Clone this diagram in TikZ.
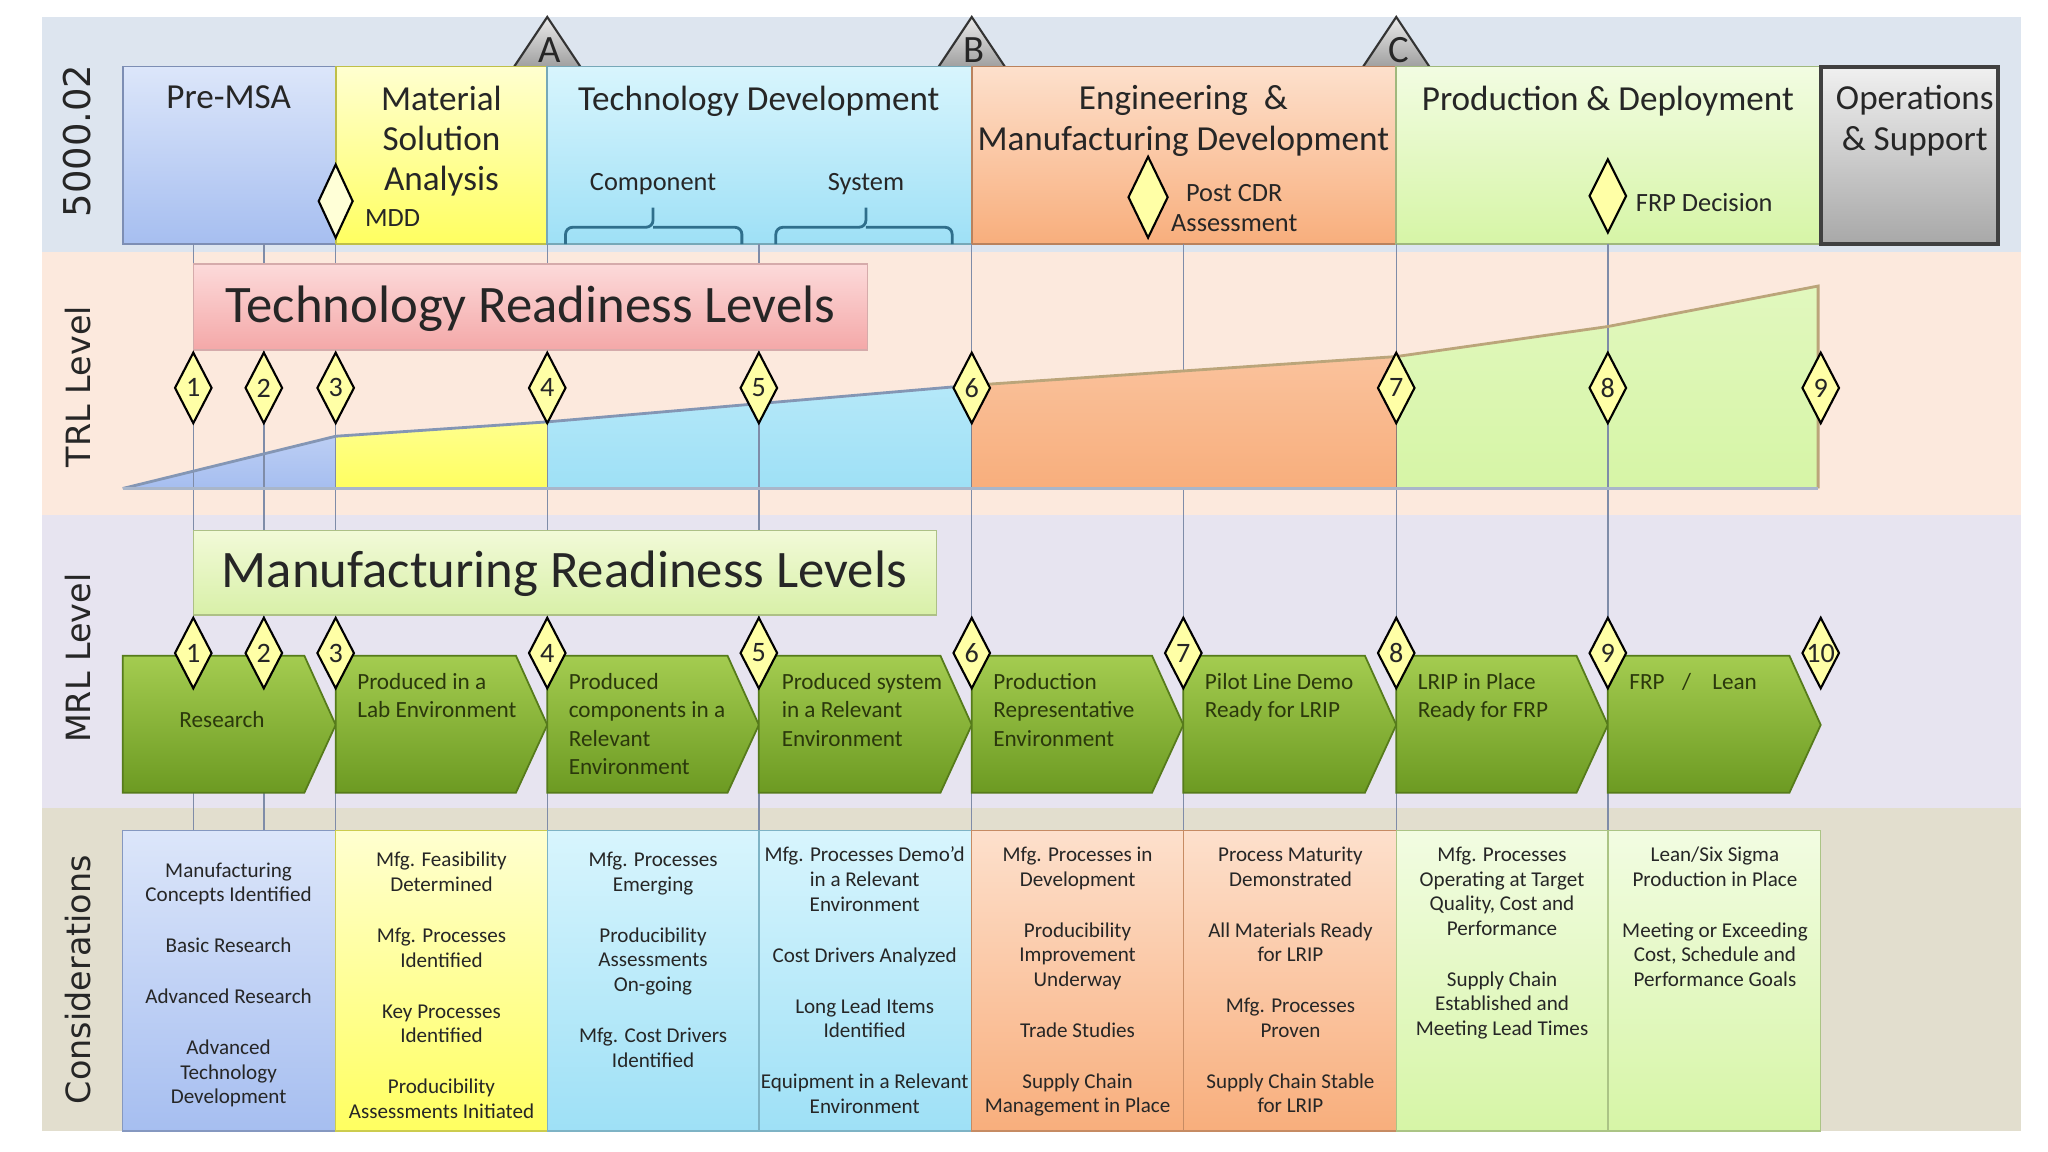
\documentclass[tikz,border=0pt]{standalone}
\usepackage{fontspec}
\setmainfont{Carlito}
\newfontfamily\sidefont{DejaVu Sans}
\usepackage{tikz}
\usetikzlibrary{positioning}
% band and phase colours
\definecolor{bandtop}{HTML}{DDE5EF}
\definecolor{bandtrl}{HTML}{FCE9DD}
\definecolor{bandmrl}{HTML}{E7E4F0}
\definecolor{bandcon}{HTML}{E2DECE}
\definecolor{txt}{HTML}{262626}
\definecolor{vgrey}{HTML}{7F8CA8}
\definecolor{blueA}{HTML}{DCE6FA}
\definecolor{blueB}{HTML}{A6BEF0}
\definecolor{yelA}{HTML}{FFFFD0}
\definecolor{yelB}{HTML}{FFFF60}
\definecolor{cyanA}{HTML}{D8F5FD}
\definecolor{cyanB}{HTML}{9EE0F6}
\definecolor{oraA}{HTML}{FDE0CC}
\definecolor{oraB}{HTML}{F8AE7C}
\definecolor{grnA}{HTML}{F2FCE2}
\definecolor{grnB}{HTML}{D6F5A6}
\definecolor{greyA}{HTML}{F0F0F0}
\definecolor{greyB}{HTML}{A8A8A8}
\definecolor{chevA}{HTML}{A4CC50}
\definecolor{chevB}{HTML}{6C9A22}
\definecolor{chevtxt}{HTML}{2B380C}
\definecolor{diafill}{HTML}{FFFFA6}
\definecolor{pinkA}{HTML}{FCDADA}
\definecolor{pinkB}{HTML}{F4A8A8}
\definecolor{limeA}{HTML}{F2FAD8}
\definecolor{limeB}{HTML}{D8F0A8}
\definecolor{bracecol}{HTML}{2F6F8C}
\definecolor{edgeblue}{HTML}{8496B4}
\definecolor{edgetan}{HTML}{BBA57A}
\tikzset{
  vline/.style={draw=vgrey, line width=0.4pt},
  phase/.style={top color=#1A, bottom color=#1B, draw=#1B!75!black, line width=0.5pt},
  ramp/.style={top color=#1A!40!#1B, bottom color=#1B},
  cell/.style={top color=#1A, bottom color=#1B, draw=#1B!80!black, line width=0.4pt},
  ptitle/.style={font=\fontsize{10}{11.5}\selectfont, align=center, inner sep=0pt, anchor=north},
  small/.style={font=\fontsize{7.5}{8.5}\selectfont, align=center, inner sep=0pt},
  mstone/.style={draw=black!80, top color=black!8, bottom color=black!38, line width=0.6pt},
  mile/.style={draw=black, fill=diafill, line width=0.6pt},
  num/.style={font=\fontsize{8}{8}\selectfont, inner sep=0pt},
  sidelbl/.style={rotate=90, anchor=base, inner sep=0pt, font=\sidefont\fontsize{9.5}{11}\selectfont},
  bigtitle/.style={font=\fontsize{15}{16}\selectfont, inner sep=0pt, anchor=base},
  chev/.style={top color=chevA, bottom color=chevB, draw=chevB!80!black, line width=0.5pt},
  chtxt/.style={font=\fontsize{6.6}{8.1}\selectfont, text=chevtxt, align=left, inner sep=0pt, anchor=north west},
  cons/.style={font=\fontsize{6}{7}\selectfont, align=center, inner sep=0pt, anchor=north},
  brc/.style={draw=bracecol, line width=0.8pt, rounded corners=2pt},
}
\begin{document}
\begin{tikzpicture}[x=0.01306cm, y=-0.01306cm, text=txt]
  \def\gap{7.5pt}
  \useasboundingbox (0,0) rectangle (1568,882);
  % background bands
  \fill[bandtop] (32,13) rectangle (1547,193);
  \fill[bandtrl] (32,193) rectangle (1547,394);
  \fill[bandmrl] (32,394) rectangle (1547,619);
  \fill[bandcon] (32,619) rectangle (1547,866);
  % row labels
  \node[sidelbl, font=\sidefont\fontsize{10.5}{12}\selectfont] (lbl0) at (69,108) {5000.02};
  \node[sidelbl] (lbl1) at (69,296) {TRL Level};
  \node[sidelbl] (lbl2) at (69,504) {MRL Level};
  \node[sidelbl] (lbl3) at (69,750) {Considerations};
  % milestones A, B, C
  \foreach \m/\x in {A/419,B/744,C/1069}{
    \draw[mstone] (\x-26,52) -- (\x,13) -- (\x+26,52) -- cycle;
    \node[font=\fontsize{11}{12}\selectfont, inner sep=0pt] (ms\m) at (\x+2,38) {\m};
  }
  % acquisition phases
  \draw[phase=blue] (94,51) rectangle (257,187);
  \draw[phase=yel] (257,51) rectangle (419,187);
  \draw[phase=cyan] (419,51) rectangle (744,187);
  \draw[phase=ora] (744,51) rectangle (1069,187);
  \draw[phase=grn] (1069,51) rectangle (1394,187);
  \draw[phase=grey, draw=black!75, line width=1.2pt] (1394,51) rectangle (1530,187);
  \node[ptitle] (ph1) at (175,65) {Pre-MSA};
  \node[ptitle] (ph2) at (338,65) {Material\\Solution\\Analysis};
  \node[ptitle] (ph3) at (581,65) {Technology Development};
  \node[ptitle] (ph4) at (906,65) {Engineering~~\&\\Manufacturing Development};
  \node[ptitle] (ph5) at (1231,65) {Production \& Deployment};
  \node[ptitle] (ph6) at (1466,65) {Operations\\\& Support};
  % component / system braces
  \node[small] (cmp) at (500,141) {Component};
  \node[small] (sys) at (663,141) {System};
  \draw[brc] (433,187) |- (500,174) -- (500,159);
  \draw[brc] (500,174) -| (568,187);
  \draw[brc] (594,187) |- (663,174) -- (663,159);
  \draw[brc] (663,174) -| (729,187);
  % decision points
  \draw[mile, fill=white!55!diafill] (257,126) -- (270,154) -- (257,182) -- (244,154) -- cycle;
  \node[small, anchor=west] (mdd) at (279,167) {MDD};
  \draw[mile] (879,120) -- (894,151) -- (879,182) -- (864,151) -- cycle;
  \node[small] (cdr) at (945,159) {Post CDR\\Assessment};
  \draw[mile] (1231,122) -- (1245,150) -- (1231,178) -- (1217,150) -- cycle;
  \node[small, anchor=west] (frp) at (1252,155) {FRP Decision};
  % TRL ramp
  \fill[ramp=blue] (94,374) -- (257,334) -- (257,374) -- cycle;
  \fill[ramp=yel] (257,334) -- (419,323) -- (419,374) -- (257,374) -- cycle;
  \fill[ramp=cyan] (419,323) -- (581,309) -- (744,295) -- (744,374) -- (419,374) -- cycle;
  \fill[ramp=grn] (1069,273) -- (1231,250) -- (1392,219) -- (1392,374) -- (1069,374) -- cycle;
  % level guides
  \foreach \x in {148,202,257,419,581,744,906,1069,1231}
    \draw[vline] (\x,187) -- (\x,636);
  \fill[ramp=ora] (744,295) -- (906,284) -- (1069,273) -- (1069,374) -- (744,374) -- cycle;
  \draw[edgeblue, line width=0.8pt] (94,374) -- (257,334) -- (419,323) -- (581,309) -- (744,295);
  \draw[edgetan, line width=0.8pt] (744,295) -- (906,284) -- (1069,273) -- (1231,250) -- (1392,219) -- (1392,374);
  \draw[edgeblue!70, line width=0.6pt] (94,374) -- (1392,374);
  % TRL
  \draw[top color=pinkA, bottom color=pinkB, draw=pinkB!80!black!70] (148,202) rectangle (664,268);
  \node[bigtitle] (trl) at (406,247) {Technology Readiness Levels};
  \foreach \n/\x in {1/148,2/202,3/257,4/419,5/581,6/744,7/1069,8/1231,9/1394}{
    \draw[mile] (\x,270) -- (\x+14,297) -- (\x,324) -- (\x-14,297) -- cycle;
    \node[num] (trl\n) at (\x,297) {\n};
  }
  % MRL
  \draw[top color=limeA, bottom color=limeB, draw=limeB!80!black] (148,406) rectangle (717,471);
  \node[bigtitle] (mrl) at (432,450) {Manufacturing Readiness Levels};
  \foreach \xs/\xe in {94/257,257/419,419/581,581/744,744/906,906/1069,1069/1231,1231/1394}
    \draw[chev] (\xs,502) -- (\xe-24,502) -- (\xe,555) -- (\xe-24,607) -- (\xs,607) -- cycle;
  \node[chtxt, anchor=center] (ch1) at (170,551) {Research};
  \node[chtxt] (ch2) at (273,515) {Produced in a\\Lab Environment};
  \node[chtxt] (ch3) at (435,515) {Produced\\components in a\\Relevant\\Environment};
  \node[chtxt] (ch4) at (598,515) {Produced system\\in a Relevant\\Environment};
  \node[chtxt] (ch5) at (760,515) {Production\\Representative\\Environment};
  \node[chtxt] (ch6) at (922,515) {Pilot Line Demo\\Ready for LRIP};
  \node[chtxt] (ch7) at (1085,515) {LRIP in Place\\Ready for FRP};
  \node[chtxt] (ch8) at (1247,515) {FRP\hspace{5pt}/\hspace{6pt}Lean};
  \foreach \n/\x in {1/148,2/202,3/257,4/419,5/581,6/744,7/906,8/1069,9/1231,10/1394}{
    \draw[mile] (\x,473) -- (\x+14,500) -- (\x,527) -- (\x-14,500) -- cycle;
    \node[num] (mrl\n) at (\x,500) {\n};
  }
  % considerations
  \foreach \xs/\xe/\c in {94/257/blue,257/419/yel,419/581/cyan,581/744/cyan,744/906/ora,906/1069/ora,1069/1231/grn,1231/1394/grn}
    \draw[cell=\c] (\xs,636) rectangle (\xe,866);
  \node[cons] (k1) at (175,660) {Manufacturing\\Concepts Identified\\[\gap]Basic Research\\[\gap]Advanced Research\\[\gap]Advanced\\Technology\\Development};
  \node[cons] (k2) at (338,652) {Mfg. Feasibility\\Determined\\[\gap]Mfg. Processes\\Identified\\[\gap]Key Processes\\Identified\\[\gap]Producibility\\Assessments Initiated};
  \node[cons] (k3) at (500,652) {Mfg. Processes\\Emerging\\[\gap]Producibility\\Assessments\\On-going\\[\gap]Mfg. Cost Drivers\\Identified};
  \node[cons] (k4) at (662,648) {Mfg. Processes Demo'd\\in a Relevant\\Environment\\[\gap]Cost Drivers Analyzed\\[\gap]Long Lead Items\\Identified\\[\gap]Equipment in a Relevant\\Environment};
  \node[cons] (k5) at (825,648) {Mfg. Processes in\\Development\\[\gap]Producibility\\Improvement\\Underway\\[\gap]Trade Studies\\[\gap]Supply Chain\\Management in Place};
  \node[cons] (k6) at (988,648) {Process Maturity\\Demonstrated\\[\gap]All Materials Ready\\for LRIP\\[\gap]Mfg. Processes\\Proven\\[\gap]Supply Chain Stable\\for LRIP};
  \node[cons] (k7) at (1150,648) {Mfg. Processes\\Operating at Target\\Quality, Cost and\\Performance\\[\gap]Supply Chain\\Established and\\Meeting Lead Times};
  \node[cons] (k8) at (1313,648) {Lean/Six Sigma\\Production in Place\\[\gap]Meeting or Exceeding\\Cost, Schedule and\\Performance Goals};
\end{tikzpicture}
\end{document}
